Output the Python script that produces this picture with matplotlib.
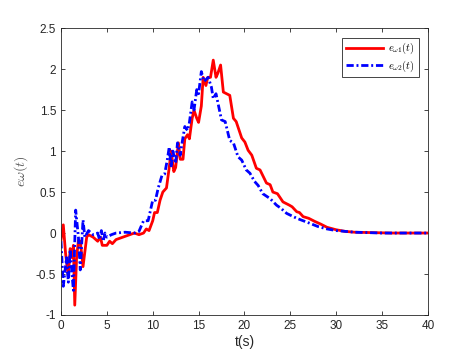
import matplotlib
matplotlib.use("Agg")
import matplotlib.pyplot as plt

t1 = [0, 0.25, 0.5, 0.8, 1.0, 1.2, 1.35, 1.5, 1.7, 1.9, 2.1, 2.4, 2.8, 3.0, 3.5, 4.0, 4.3, 4.5,
      5.0, 5.3, 5.6, 6.0, 7, 8, 8.5, 9.0, 9.3, 9.6, 10, 10.2, 10.5, 10.8, 11.1, 11.5, 11.8, 12.0, 12.3, 12.5,
      12.8, 13.0, 13.3, 13.5, 13.8, 14.0, 14.3, 14.5, 14.8, 15.0, 15.3, 15.5, 15.8, 16.0, 16.3, 16.6, 16.9,
      17.1, 17.4, 17.7, 18.4, 18.8, 19.1, 19.7, 20.05, 20.4, 20.8, 21.3, 21.7, 22.4, 22.8, 23.1, 23.6,
      24.2, 24.9, 25.2, 25.7, 26.0, 26.4, 27.0, 27.7, 28.3, 29, 30, 31, 32, 34, 36, 40]
e1 = [-0.085, 0.1, -0.25, -0.53, -0.19, -0.3, -0.15, -0.88, -0.3, -0.09, -0.1, -0.41, -0.05, -0.02,
      -0.05, -0.1, -0.05, -0.15, -0.15, -0.1, -0.13, -0.08, -0.04, 0.0, -0.02, 0.0, 0.05, 0.03, 0.15, 0.25,
      0.25, 0.4, 0.5, 0.55, 0.8, 1.0, 0.75, 0.8, 1.1, 0.9, 0.9, 1.15, 1.2, 1.15, 1.4, 1.5, 1.4, 1.35, 1.55,
      1.9, 1.8, 1.9, 1.9, 2.11, 1.9, 1.95, 2.05, 1.72, 1.68, 1.40, 1.36, 1.16, 1.11, 1.01, 0.95, 0.79, 0.77,
      0.61, 0.59, 0.50, 0.48, 0.38, 0.34, 0.32, 0.26, 0.25, 0.20, 0.18, 0.14, 0.11, 0.07, 0.04,
      0.02, 0.01, 0.005, 0.0, 0.0]

t2 = [0, 0.25, 0.6, 0.8, 1.0, 1.2, 1.35, 1.6, 1.9, 2.1, 2.4, 2.6, 3.0, 3.5, 4.0, 4.2,
      4.4, 4.6, 4.8, 5.0, 5.5, 6, 7, 8, 8.5, 9, 9.5, 10, 10.3, 10.6, 11, 11.3, 11.6, 11.8, 12.0, 12.2, 12.5,
      12.7, 13.0, 13.2, 13.5, 13.8, 14.0, 14.3, 14.5, 14.8, 15.0, 15.3, 15.6, 16.05, 16.4, 16.6, 16.9,
      17.5, 17.9, 18.4, 18.8, 19.3, 19.7, 20.2, 20.6, 21.1, 21.5, 22.0, 22.8, 23.5, 24.0, 24.6, 25.7,
      27.1, 28, 29, 30, 32, 35, 40]
e2 = [-0.1, -0.65, -0.3, -0.6, -0.2, -0.5, -0.7, 0.28, -0.05, -0.45, 0.16, -0.05, 0.03, -0.02, 0.0,
      -0.08, 0.03, -0.1, 0.0, -0.05, -0.02, 0.0, 0.01, 0.0, 0.02, 0.15, 0.15, 0.4, 0.4, 0.55, 0.7, 0.72,
      0.9, 1.05, 0.8, 1.0, 0.85, 1.1, 0.95, 1.1, 1.3, 1.25, 1.35, 1.6, 1.5, 1.75, 1.7, 1.97, 1.85, 1.9,
      1.78, 1.64, 1.7, 1.38, 1.36, 1.13, 1.1, 0.93, 0.89, 0.77, 0.73, 0.63, 0.58, 0.48, 0.42, 0.34, 0.30,
      0.24, 0.18, 0.12, 0.08, 0.05, 0.03, 0.01, 0.0, 0.0]

xticks = [0, 5, 10, 15, 20, 25, 30, 35, 40]
yticks = [-1, -0.5, 0, 0.5, 1, 1.5, 2, 2.5]
yticklabels = ["-1", "-0.5", "0", "0.5", "1", "1.5", "2", "2.5"]

plt.rcParams['font.family'] = ['Liberation Sans', 'DejaVu Sans']
plt.rcParams['mathtext.fontset'] = 'cm'

fig = plt.figure(figsize=(4.74, 3.55), dpi=100)
ax = fig.add_axes([0.1287, 0.1127, 0.774, 0.808])
ax.plot(t1, e1, color='red', lw=2.0, ls='-', label=r'$e_{\omega 1}(t)$')
ax.plot(t2, e2, color='blue', lw=2.0, dashes=(2.6, 1.0, 0.7, 1.0), label=r'$e_{\omega 2}(t)$')
ax.set_xlim(0, 40)
ax.set_ylim(-1, 2.5)
ax.set_xticks(xticks)
ax.set_yticks(yticks)
ax.set_yticklabels(yticklabels)
gray = '#262626'
ax.tick_params(direction='in', top=True, right=True, labelsize=8.5, colors=gray, length=3, width=0.6)
for s in ax.spines.values():
    s.set_color('#262626')
    s.set_linewidth(0.6)
ax.set_xlabel('t(s)', fontsize=10, color=gray, labelpad=2)
ax.set_ylabel(r'$e\omega(t)$', fontsize=10, color='#555555', labelpad=4)
leg = ax.legend(loc='upper right', fontsize=7.5, frameon=True, fancybox=False, framealpha=1,
                edgecolor=gray, handlelength=3.6, borderaxespad=0.9, handletextpad=0.5,
                labelspacing=0.2, borderpad=0.35)
leg.get_frame().set_linewidth(0.6)
fig.savefig('out.png', dpi=100)
